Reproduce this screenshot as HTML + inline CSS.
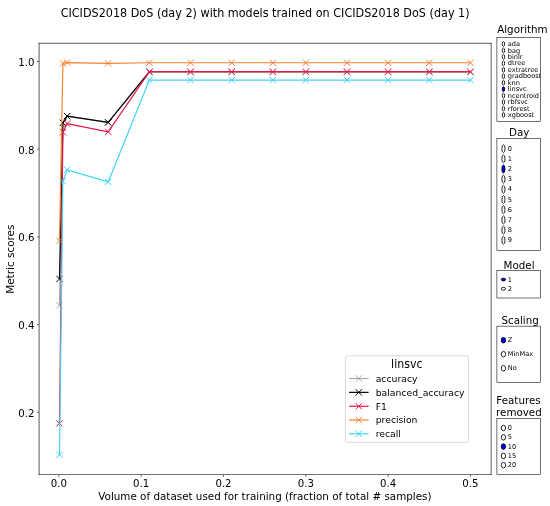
<!DOCTYPE html>
<html><head><meta charset="utf-8"><title>CICIDS2018 DoS</title>
<style>html,body{margin:0;padding:0;background:#fff;}body{width:550px;height:506px;overflow:hidden;}svg{display:block;}text{font-family:"DejaVu Sans","Liberation Sans",sans-serif;fill:#000;}</style>
</head><body>
<svg width="550" height="506" viewBox="0 0 550 506">
<rect x="0" y="0" width="550" height="506" fill="#ffffff"/>
<text transform="translate(265.1 17.35) scale(1 1.06)" font-size="11.21" text-anchor="middle">CICIDS2018 DoS (day 2) with models trained on CICIDS2018 DoS (day 1)</text>
<clipPath id="axclip"><rect x="39.1" y="43.28" width="452.04999999999995" height="431.22"/></clipPath>
<g clip-path="url(#axclip)" fill="none" stroke-linejoin="round">
<polyline points="59.50,305.40 62.90,122.80 67.10,116.10 108.20,122.40 149.40,72.40 190.55,72.40 231.71,72.40 272.88,72.40 305.81,72.40 346.97,72.40 388.14,72.40 429.31,72.40 470.47,72.40" stroke="#a9a9a9" stroke-width="1.2" stroke-linecap="square"/>
<path d="M56.35 302.25L62.65 308.55M56.35 308.55L62.65 302.25M59.75 119.65L66.05 125.95M59.75 125.95L66.05 119.65M63.95 112.95L70.25 119.25M63.95 119.25L70.25 112.95M105.05 119.25L111.35 125.55M105.05 125.55L111.35 119.25M146.25 69.25L152.55 75.55M146.25 75.55L152.55 69.25M187.40 69.25L193.70 75.55M187.40 75.55L193.70 69.25M228.56 69.25L234.86 75.55M228.56 75.55L234.86 69.25M269.73 69.25L276.03 75.55M269.73 75.55L276.03 69.25M302.66 69.25L308.96 75.55M302.66 75.55L308.96 69.25M343.82 69.25L350.12 75.55M343.82 75.55L350.12 69.25M384.99 69.25L391.29 75.55M384.99 75.55L391.29 69.25M426.16 69.25L432.45 75.55M426.16 75.55L432.45 69.25M467.32 69.25L473.62 75.55M467.32 75.55L473.62 69.25" stroke="#a9a9a9" stroke-width="1.0" stroke-linecap="butt"/>
<polyline points="59.50,278.90 62.90,122.80 67.10,116.10 108.20,122.40 149.40,71.62" stroke="#000000" stroke-width="1.2" stroke-linecap="butt"/>
<polyline points="149.40,71.62 190.55,71.62 231.71,71.62 272.88,71.62 305.81,71.62 346.97,71.62 388.14,71.62 429.31,71.62 470.47,71.62" stroke="#000000" stroke-width="0.5" stroke-linecap="butt"/>
<path d="M56.35 275.75L62.65 282.05M56.35 282.05L62.65 275.75M59.75 119.65L66.05 125.95M59.75 125.95L66.05 119.65M63.95 112.95L70.25 119.25M63.95 119.25L70.25 112.95M105.05 119.25L111.35 125.55M105.05 125.55L111.35 119.25" stroke="#000000" stroke-width="1.0" stroke-linecap="butt"/>
<path d="M146.25 68.47L152.55 74.77M146.25 74.77L152.55 68.47" stroke="#000000" stroke-width="0.4" stroke-linecap="butt"/>
<polyline points="59.50,423.40 62.90,132.30 67.10,123.60 108.20,131.80 149.40,71.65 190.55,71.65 231.71,71.65 272.88,71.65 305.81,71.65 346.97,71.65 388.14,71.65 429.31,71.65 470.47,71.65" stroke="#e6194b" stroke-width="1.2" stroke-linecap="square"/>
<path d="M56.35 420.25L62.65 426.55M56.35 426.55L62.65 420.25M59.75 129.15L66.05 135.45M59.75 135.45L66.05 129.15M63.95 120.45L70.25 126.75M63.95 126.75L70.25 120.45M105.05 128.65L111.35 134.95M105.05 134.95L111.35 128.65M146.25 68.50L152.55 74.80M146.25 74.80L152.55 68.50M187.40 68.50L193.70 74.80M187.40 74.80L193.70 68.50M228.56 68.50L234.86 74.80M228.56 74.80L234.86 68.50M269.73 68.50L276.03 74.80M269.73 74.80L276.03 68.50M302.66 68.50L308.96 74.80M302.66 74.80L308.96 68.50M343.82 68.50L350.12 74.80M343.82 74.80L350.12 68.50M384.99 68.50L391.29 74.80M384.99 74.80L391.29 68.50M426.16 68.50L432.45 74.80M426.16 74.80L432.45 68.50M467.32 68.50L473.62 74.80M467.32 74.80L473.62 68.50" stroke="#e6194b" stroke-width="1.0" stroke-linecap="butt"/>
<polyline points="59.50,240.75 62.90,63.40 67.10,62.60 108.20,63.36 149.40,62.75 190.55,62.75 231.71,62.75 272.88,62.75 305.81,62.75 346.97,62.75 388.14,62.75 429.31,62.75 470.47,62.75" stroke="#f58231" stroke-width="1.2" stroke-linecap="square"/>
<path d="M56.35 237.60L62.65 243.90M56.35 243.90L62.65 237.60M59.75 60.25L66.05 66.55M59.75 66.55L66.05 60.25M63.95 59.45L70.25 65.75M63.95 65.75L70.25 59.45M105.05 60.21L111.35 66.51M105.05 66.51L111.35 60.21M146.25 59.60L152.55 65.90M146.25 65.90L152.55 59.60M187.40 59.60L193.70 65.90M187.40 65.90L193.70 59.60M228.56 59.60L234.86 65.90M228.56 65.90L234.86 59.60M269.73 59.60L276.03 65.90M269.73 65.90L276.03 59.60M302.66 59.60L308.96 65.90M302.66 65.90L308.96 59.60M343.82 59.60L350.12 65.90M343.82 65.90L350.12 59.60M384.99 59.60L391.29 65.90M384.99 65.90L391.29 59.60M426.16 59.60L432.45 65.90M426.16 65.90L432.45 59.60M467.32 59.60L473.62 65.90M467.32 65.90L473.62 59.60" stroke="#f58231" stroke-width="1.0" stroke-linecap="butt"/>
<polyline points="59.50,454.80 62.90,181.30 67.10,169.80 108.20,181.90 149.40,80.10 190.55,80.10 231.71,80.10 272.88,80.10 305.81,80.10 346.97,80.10 388.14,80.10 429.31,80.10 470.47,80.10" stroke="#42d4f4" stroke-width="1.2" stroke-linecap="square"/>
<path d="M56.35 451.65L62.65 457.95M56.35 457.95L62.65 451.65M59.75 178.15L66.05 184.45M59.75 184.45L66.05 178.15M63.95 166.65L70.25 172.95M63.95 172.95L70.25 166.65M105.05 178.75L111.35 185.05M105.05 185.05L111.35 178.75M146.25 76.95L152.55 83.25M146.25 83.25L152.55 76.95M187.40 76.95L193.70 83.25M187.40 83.25L193.70 76.95M228.56 76.95L234.86 83.25M228.56 83.25L234.86 76.95M269.73 76.95L276.03 83.25M269.73 83.25L276.03 76.95M302.66 76.95L308.96 83.25M302.66 83.25L308.96 76.95M343.82 76.95L350.12 83.25M343.82 83.25L350.12 76.95M384.99 76.95L391.29 83.25M384.99 83.25L391.29 76.95M426.16 76.95L432.45 83.25M426.16 83.25L432.45 76.95M467.32 76.95L473.62 83.25M467.32 83.25L473.62 76.95" stroke="#42d4f4" stroke-width="1.0" stroke-linecap="butt"/>
</g>
<path d="M39.1 42.95V474.83M491.15 42.95V474.83M38.78 43.28H491.46999999999997" fill="none" stroke="#000" stroke-width="0.65"/>
<path d="M38.78 474.5H491.46999999999997" fill="none" stroke="#000" stroke-width="0.55"/>
<line x1="37.0" y1="412.30" x2="39.1" y2="412.30" stroke="#000" stroke-width="0.56"/>
<text x="34.55" y="416.75" font-size="10.2" text-anchor="end">0.2</text>
<line x1="37.0" y1="324.60" x2="39.1" y2="324.60" stroke="#000" stroke-width="0.56"/>
<text x="34.55" y="329.05" font-size="10.2" text-anchor="end">0.4</text>
<line x1="37.0" y1="236.90" x2="39.1" y2="236.90" stroke="#000" stroke-width="0.56"/>
<text x="34.55" y="241.35" font-size="10.2" text-anchor="end">0.6</text>
<line x1="37.0" y1="149.20" x2="39.1" y2="149.20" stroke="#000" stroke-width="0.56"/>
<text x="34.55" y="153.65" font-size="10.2" text-anchor="end">0.8</text>
<line x1="37.0" y1="61.50" x2="39.1" y2="61.50" stroke="#000" stroke-width="0.56"/>
<text x="34.55" y="65.95" font-size="10.2" text-anchor="end">1.0</text>
<line x1="58.82" y1="474.5" x2="58.82" y2="476.9" stroke="#000" stroke-width="0.56"/>
<text x="58.82" y="487.15" font-size="10.2" text-anchor="middle">0.0</text>
<line x1="141.15" y1="474.5" x2="141.15" y2="476.9" stroke="#000" stroke-width="0.56"/>
<text x="141.15" y="487.15" font-size="10.2" text-anchor="middle">0.1</text>
<line x1="223.48" y1="474.5" x2="223.48" y2="476.9" stroke="#000" stroke-width="0.56"/>
<text x="223.48" y="487.15" font-size="10.2" text-anchor="middle">0.2</text>
<line x1="305.81" y1="474.5" x2="305.81" y2="476.9" stroke="#000" stroke-width="0.56"/>
<text x="305.81" y="487.15" font-size="10.2" text-anchor="middle">0.3</text>
<line x1="388.14" y1="474.5" x2="388.14" y2="476.9" stroke="#000" stroke-width="0.56"/>
<text x="388.14" y="487.15" font-size="10.2" text-anchor="middle">0.4</text>
<line x1="470.47" y1="474.5" x2="470.47" y2="476.9" stroke="#000" stroke-width="0.56"/>
<text x="470.47" y="487.15" font-size="10.2" text-anchor="middle">0.5</text>
<text x="264.9" y="499.75" font-size="10.363" text-anchor="middle">Volume of dataset used for training (fraction of total # samples)</text>
<text transform="translate(13.9 259.2) rotate(-90) scale(1 1.04)" font-size="10.46" text-anchor="middle">Metric scores</text>
<rect x="345.45" y="355.8" width="123.0" height="86.55" rx="1.9" ry="1.9" fill="#ffffff" fill-opacity="0.8" stroke="#cccccc" stroke-opacity="0.8" stroke-width="0.93"/>
<text transform="translate(406.85 367.95) scale(1 1.04)" font-size="11.05" text-anchor="middle">linsvc</text>
<line x1="349.0" y1="378.5" x2="368.6" y2="378.5" stroke="#a9a9a9" stroke-width="1.2"/>
<path d="M355.65 375.35L361.95 381.65M355.65 381.65L361.95 375.35" stroke="#a9a9a9" stroke-width="1.0" fill="none"/>
<text x="375.7" y="381.80" font-size="9.28">accuracy</text>
<line x1="349.0" y1="392.35" x2="368.6" y2="392.35" stroke="#000000" stroke-width="1.2"/>
<path d="M355.65 389.20L361.95 395.50M355.65 395.50L361.95 389.20" stroke="#000000" stroke-width="1.0" fill="none"/>
<text x="375.7" y="395.65" font-size="9.28">balanced_accuracy</text>
<line x1="349.0" y1="406.25" x2="368.6" y2="406.25" stroke="#e6194b" stroke-width="1.2"/>
<path d="M355.65 403.10L361.95 409.40M355.65 409.40L361.95 403.10" stroke="#e6194b" stroke-width="1.0" fill="none"/>
<text x="375.7" y="409.55" font-size="9.28">F1</text>
<line x1="349.0" y1="420.0" x2="368.6" y2="420.0" stroke="#f58231" stroke-width="1.2"/>
<path d="M355.65 416.85L361.95 423.15M355.65 423.15L361.95 416.85" stroke="#f58231" stroke-width="1.0" fill="none"/>
<text x="375.7" y="423.30" font-size="9.28">precision</text>
<line x1="349.0" y1="433.76" x2="368.6" y2="433.76" stroke="#42d4f4" stroke-width="1.2"/>
<path d="M355.65 430.61L361.95 436.91M355.65 436.91L361.95 430.61" stroke="#42d4f4" stroke-width="1.0" fill="none"/>
<text x="375.7" y="437.06" font-size="9.28">recall</text>
<rect x="496.9" y="37.5" width="43.60" height="84.00" fill="#fff" stroke="#000" stroke-width="0.56"/>
<text x="522.45" y="32.8" font-size="10.3" text-anchor="middle">Algorithm</text>
<ellipse cx="503.44" cy="43.96" rx="1.24" ry="2.39" fill="#ffffff" stroke="#000" stroke-width="0.85"/>
<text x="507.80" y="46.06" font-size="6.6">ada</text>
<ellipse cx="503.44" cy="50.42" rx="1.24" ry="2.39" fill="#ffffff" stroke="#000" stroke-width="0.85"/>
<text x="507.80" y="52.52" font-size="6.6">bag</text>
<ellipse cx="503.44" cy="56.88" rx="1.24" ry="2.39" fill="#ffffff" stroke="#000" stroke-width="0.85"/>
<text x="507.80" y="58.98" font-size="6.6">binlr</text>
<ellipse cx="503.44" cy="63.35" rx="1.24" ry="2.39" fill="#ffffff" stroke="#000" stroke-width="0.85"/>
<text x="507.80" y="65.45" font-size="6.6">dtree</text>
<ellipse cx="503.44" cy="69.81" rx="1.24" ry="2.39" fill="#ffffff" stroke="#000" stroke-width="0.85"/>
<text x="507.80" y="71.91" font-size="6.6">extratree</text>
<ellipse cx="503.44" cy="76.27" rx="1.24" ry="2.39" fill="#ffffff" stroke="#000" stroke-width="0.85"/>
<text x="507.80" y="78.37" font-size="6.6">gradboost</text>
<ellipse cx="503.44" cy="82.73" rx="1.24" ry="2.39" fill="#ffffff" stroke="#000" stroke-width="0.85"/>
<text x="507.80" y="84.83" font-size="6.6">knn</text>
<ellipse cx="503.44" cy="89.19" rx="1.24" ry="2.39" fill="#0000ff" stroke="#000" stroke-width="0.85"/>
<text x="507.80" y="91.29" font-size="6.6">linsvc</text>
<ellipse cx="503.44" cy="95.65" rx="1.24" ry="2.39" fill="#ffffff" stroke="#000" stroke-width="0.85"/>
<text x="507.80" y="97.75" font-size="6.6">ncentroid</text>
<ellipse cx="503.44" cy="102.12" rx="1.24" ry="2.39" fill="#ffffff" stroke="#000" stroke-width="0.85"/>
<text x="507.80" y="104.22" font-size="6.6">rbfsvc</text>
<ellipse cx="503.44" cy="108.58" rx="1.24" ry="2.39" fill="#ffffff" stroke="#000" stroke-width="0.85"/>
<text x="507.80" y="110.68" font-size="6.6">rforest</text>
<ellipse cx="503.44" cy="115.04" rx="1.24" ry="2.39" fill="#ffffff" stroke="#000" stroke-width="0.85"/>
<text x="507.80" y="117.14" font-size="6.6">xgboost</text>
<rect x="496.9" y="138.5" width="43.60" height="111.90" fill="#fff" stroke="#000" stroke-width="0.56"/>
<text x="519.2" y="135.7" font-size="10.3" text-anchor="middle">Day</text>
<ellipse cx="503.44" cy="148.67" rx="1.55" ry="3.97" fill="#ffffff" stroke="#000" stroke-width="0.85"/>
<text x="507.80" y="150.77" font-size="6.6">0</text>
<ellipse cx="503.44" cy="158.85" rx="1.55" ry="3.97" fill="#ffffff" stroke="#000" stroke-width="0.85"/>
<text x="507.80" y="160.95" font-size="6.6">1</text>
<ellipse cx="503.44" cy="169.02" rx="1.55" ry="3.97" fill="#0000ff" stroke="#000" stroke-width="0.85"/>
<text x="507.80" y="171.12" font-size="6.6">2</text>
<ellipse cx="503.44" cy="179.19" rx="1.55" ry="3.97" fill="#ffffff" stroke="#000" stroke-width="0.85"/>
<text x="507.80" y="181.29" font-size="6.6">3</text>
<ellipse cx="503.44" cy="189.36" rx="1.55" ry="3.97" fill="#ffffff" stroke="#000" stroke-width="0.85"/>
<text x="507.80" y="191.46" font-size="6.6">4</text>
<ellipse cx="503.44" cy="199.54" rx="1.55" ry="3.97" fill="#ffffff" stroke="#000" stroke-width="0.85"/>
<text x="507.80" y="201.64" font-size="6.6">5</text>
<ellipse cx="503.44" cy="209.71" rx="1.55" ry="3.97" fill="#ffffff" stroke="#000" stroke-width="0.85"/>
<text x="507.80" y="211.81" font-size="6.6">6</text>
<ellipse cx="503.44" cy="219.88" rx="1.55" ry="3.97" fill="#ffffff" stroke="#000" stroke-width="0.85"/>
<text x="507.80" y="221.98" font-size="6.6">7</text>
<ellipse cx="503.44" cy="230.05" rx="1.55" ry="3.97" fill="#ffffff" stroke="#000" stroke-width="0.85"/>
<text x="507.80" y="232.15" font-size="6.6">8</text>
<ellipse cx="503.44" cy="240.23" rx="1.55" ry="3.97" fill="#ffffff" stroke="#000" stroke-width="0.85"/>
<text x="507.80" y="242.33" font-size="6.6">9</text>
<rect x="496.9" y="270.3" width="43.60" height="27.70" fill="#fff" stroke="#000" stroke-width="0.56"/>
<text x="519.05" y="269.3" font-size="10.3" text-anchor="middle">Model</text>
<ellipse cx="503.44" cy="279.53" rx="2.18" ry="1.38" fill="#0000ff" stroke="#000" stroke-width="0.85"/>
<text x="507.80" y="281.63" font-size="6.6">1</text>
<ellipse cx="503.44" cy="288.77" rx="2.18" ry="1.38" fill="#ffffff" stroke="#000" stroke-width="0.85"/>
<text x="507.80" y="290.87" font-size="6.6">2</text>
<rect x="496.9" y="326.15" width="43.60" height="56.15" fill="#fff" stroke="#000" stroke-width="0.56"/>
<text x="520.1" y="324.0" font-size="10.3" text-anchor="middle">Scaling</text>
<ellipse cx="503.44" cy="340.19" rx="2.18" ry="2.81" fill="#0000ff" stroke="#000" stroke-width="0.85"/>
<text x="507.80" y="342.29" font-size="6.6">Z</text>
<ellipse cx="503.44" cy="354.23" rx="2.18" ry="2.81" fill="#ffffff" stroke="#000" stroke-width="0.85"/>
<text x="507.80" y="356.33" font-size="6.6">MinMax</text>
<ellipse cx="503.44" cy="368.26" rx="2.18" ry="2.81" fill="#ffffff" stroke="#000" stroke-width="0.85"/>
<text x="507.80" y="370.36" font-size="6.6">No</text>
<rect x="496.9" y="418.7" width="43.60" height="55.80" fill="#fff" stroke="#000" stroke-width="0.56"/>
<text x="518.5" y="404.15" font-size="10.3" text-anchor="middle">Features</text>
<text x="518.9" y="415.85" font-size="10.3" text-anchor="middle">removed</text>
<ellipse cx="503.44" cy="428.00" rx="2.18" ry="2.79" fill="#ffffff" stroke="#000" stroke-width="0.85"/>
<text x="507.80" y="430.10" font-size="6.6">0</text>
<ellipse cx="503.44" cy="437.30" rx="2.18" ry="2.79" fill="#ffffff" stroke="#000" stroke-width="0.85"/>
<text x="507.80" y="439.40" font-size="6.6">5</text>
<ellipse cx="503.44" cy="446.60" rx="2.18" ry="2.79" fill="#0000ff" stroke="#000" stroke-width="0.85"/>
<text x="507.80" y="448.70" font-size="6.6">10</text>
<ellipse cx="503.44" cy="455.90" rx="2.18" ry="2.79" fill="#ffffff" stroke="#000" stroke-width="0.85"/>
<text x="507.80" y="458.00" font-size="6.6">15</text>
<ellipse cx="503.44" cy="465.20" rx="2.18" ry="2.79" fill="#ffffff" stroke="#000" stroke-width="0.85"/>
<text x="507.80" y="467.30" font-size="6.6">20</text>
</svg>
</body></html>
